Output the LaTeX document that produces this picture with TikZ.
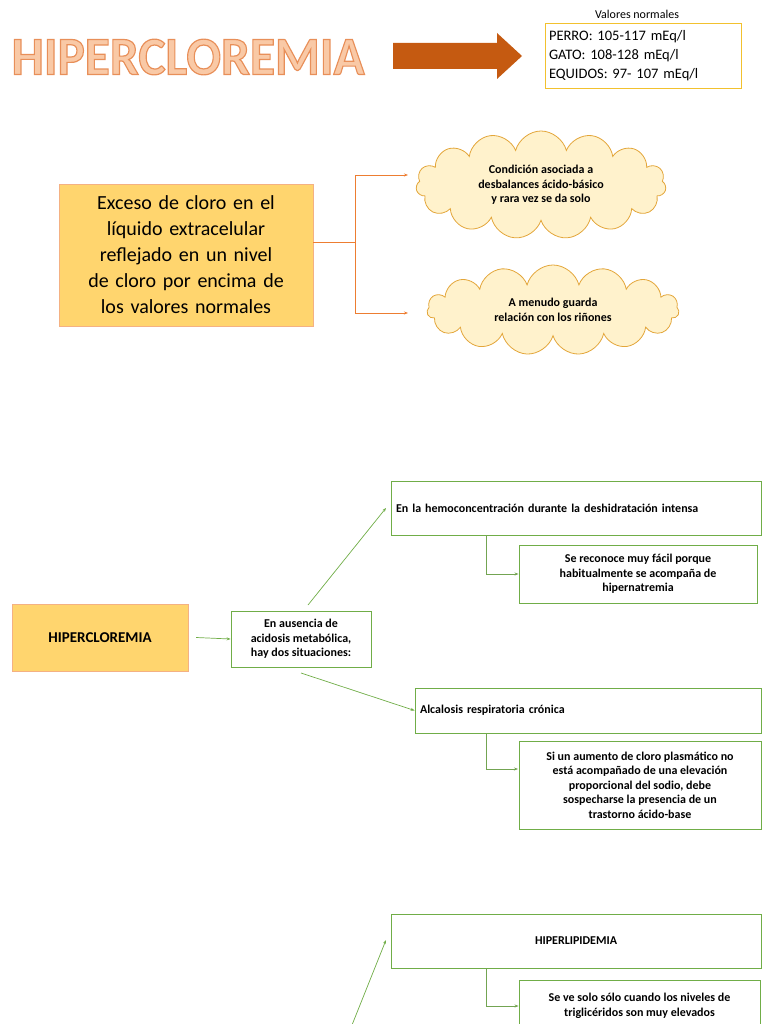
\documentclass[tikz,border=0pt]{standalone}
\usepackage{fontspec}
\setmainfont{Carlito}
\usetikzlibrary{shapes.symbols,arrows.meta}
\definecolor{gborder}{HTML}{70AD47}
\definecolor{oline}{HTML}{ED7D31}
\definecolor{darkor}{HTML}{C55A11}
\definecolor{ybox}{HTML}{FFD56E}
\definecolor{cloudf}{HTML}{FFF2CC}
\definecolor{cloudd}{HTML}{E3A63A}
\definecolor{gold}{HTML}{F2C12E}
\definecolor{titfill}{HTML}{F9C9A6}
\tikzset{
 gbox/.style={draw=gborder,line width=0.9pt,fill=white,font=\bfseries\fontsize{12}{14.5}\selectfont,align=center,inner sep=2pt},
 garr/.style={draw=gborder,line width=0.7pt,-{Stealth[length=4pt,width=3pt]}},
 oarr/.style={draw=oline,line width=0.6pt,-{Stealth[length=4pt,width=3pt]}},
 cloudbox/.style={cloud,cloud puffs=15,aspect=2.6,draw=cloudd,fill=cloudf,line width=0.8pt,font=\bfseries\fontsize{12}{14.5}\selectfont,align=center,inner sep=0pt},
 ttl/.style={font=\bfseries\fontsize{54}{54}\selectfont,inner sep=0pt}
}
\begin{document}
\begin{tikzpicture}[x=1pt,y=-1pt]
\useasboundingbox (0,0) rectangle (768,1024);
\clip (0,0) rectangle (768,1024);
\node[ttl,text=titfill,xscale=0.95] (title) at (188,57) {\special{pdf:code 0.91 0.56 0.35 RG 1.2 w 2 Tr}HIPERCLOREMIA\special{pdf:code 0 Tr}};
\fill[darkor] (393,43) -- (497,43) -- (497,33) -- (522,56) -- (497,79) -- (497,69) -- (393,69) -- cycle;
\coordinate (bigarrow) at (457,56);
\node[font=\fontsize{12}{14}\selectfont] (vn) at (637,14) {Valores normales};
\node[draw=gold,line width=0.9pt,minimum width=196,minimum height=65,text width=188,align=left,font=\fontsize{14.5}{19}\selectfont,inner sep=3pt] (vals) at (643,55.5) {PERRO: 105-117 mEq/l\\GATO: 108-128 mEq/l\\EQUIDOS: 97- 107 mEq/l};
% section 1
\node[draw=oline!60,fill=ybox,minimum width=254,minimum height=142,text width=228,align=center,font=\fontsize{20}{26}\selectfont,inner sep=2pt] (exceso) at (186,255) {\hyphenpenalty=10000 Exceso de cloro en el l\'iquido extracelular reflejado en un nivel de cloro por encima de los valores normales};
\node[cloudbox,minimum width=250,minimum height=108] (c1) at (541,185) {Condición asociada a\\desbalances ácido-básico\\y rara vez se da solo};
\node[cloudbox,minimum width=252,minimum height=90] (c2) at (553,310) {A menudo guarda\\relación con los riñones};
\coordinate (j1) at (355,242);
\draw[draw=oline,line width=0.6pt] (exceso.east|-j1) -- (j1);
\draw[oarr] (j1) |- (408,175);
\draw[oarr] (j1) |- (408,313);
% section 2
\node[draw=oline!60,fill=ybox,minimum width=176,minimum height=67,font=\bfseries\fontsize{15}{18}\selectfont] (hip) at (100,637.5) {HIPERCLOREMIA};
\node[gbox,minimum width=140,minimum height=56] (aus) at (301,639) {En ausencia de\\acidosis metabólica,\\hay dos situaciones:};
\draw[garr] (hip.east) ++(8,0) -- (aus.west);
\node[gbox,minimum width=370,minimum height=54,text width=360,align=left,inner sep=5pt] (hemo) at (576,508) {En la hemoconcentración durante la deshidratación intensa};
\node[gbox,minimum width=238,minimum height=58] (reco) at (638,574) {Se reconoce muy fácil porque\\habitualmente se acompaña de\\hipernatremia};
\node[gbox,minimum width=346,minimum height=45,text width=336,align=left,inner sep=5pt] (alca) at (588,710.5) {Alcalosis respiratoria crónica};
\node[gbox,minimum width=242,minimum height=88] (si) at (640,785) {Si un aumento de cloro plasmático no\\está acompañado de una elevación\\proporcional del sodio, debe\\sospecharse la presencia de un\\trastorno ácido-base};
\coordinate (a1s) at (308,605);
\coordinate (a1e) at (386,508);
\draw[garr] (a1s) -- (a1e);
\coordinate (a2s) at (301,673);
\draw[garr] (a2s) -- (alca.west);
\draw[garr,draw=gborder!80!gray] (486,535) |- (reco.west);
\draw[garr,draw=gborder!80!gray] (486,733) |- (518,769);
% section 3
\node[gbox,minimum width=370,minimum height=54] (hl) at (576,941) {HIPERLIPIDEMIA};
\node[gbox,minimum width=241,minimum height=52] (tri) at (639.5,1006) {Se ve solo sólo cuando los niveles de\\triglicéridos son muy elevados};
\coordinate (a3s) at (350,1030);
\coordinate (a3e) at (386,940);
\draw[garr] (a3s) -- (a3e);
\draw[garr,draw=gborder!80!gray] (486,968) |- (tri.west);
\end{tikzpicture}
\end{document}
